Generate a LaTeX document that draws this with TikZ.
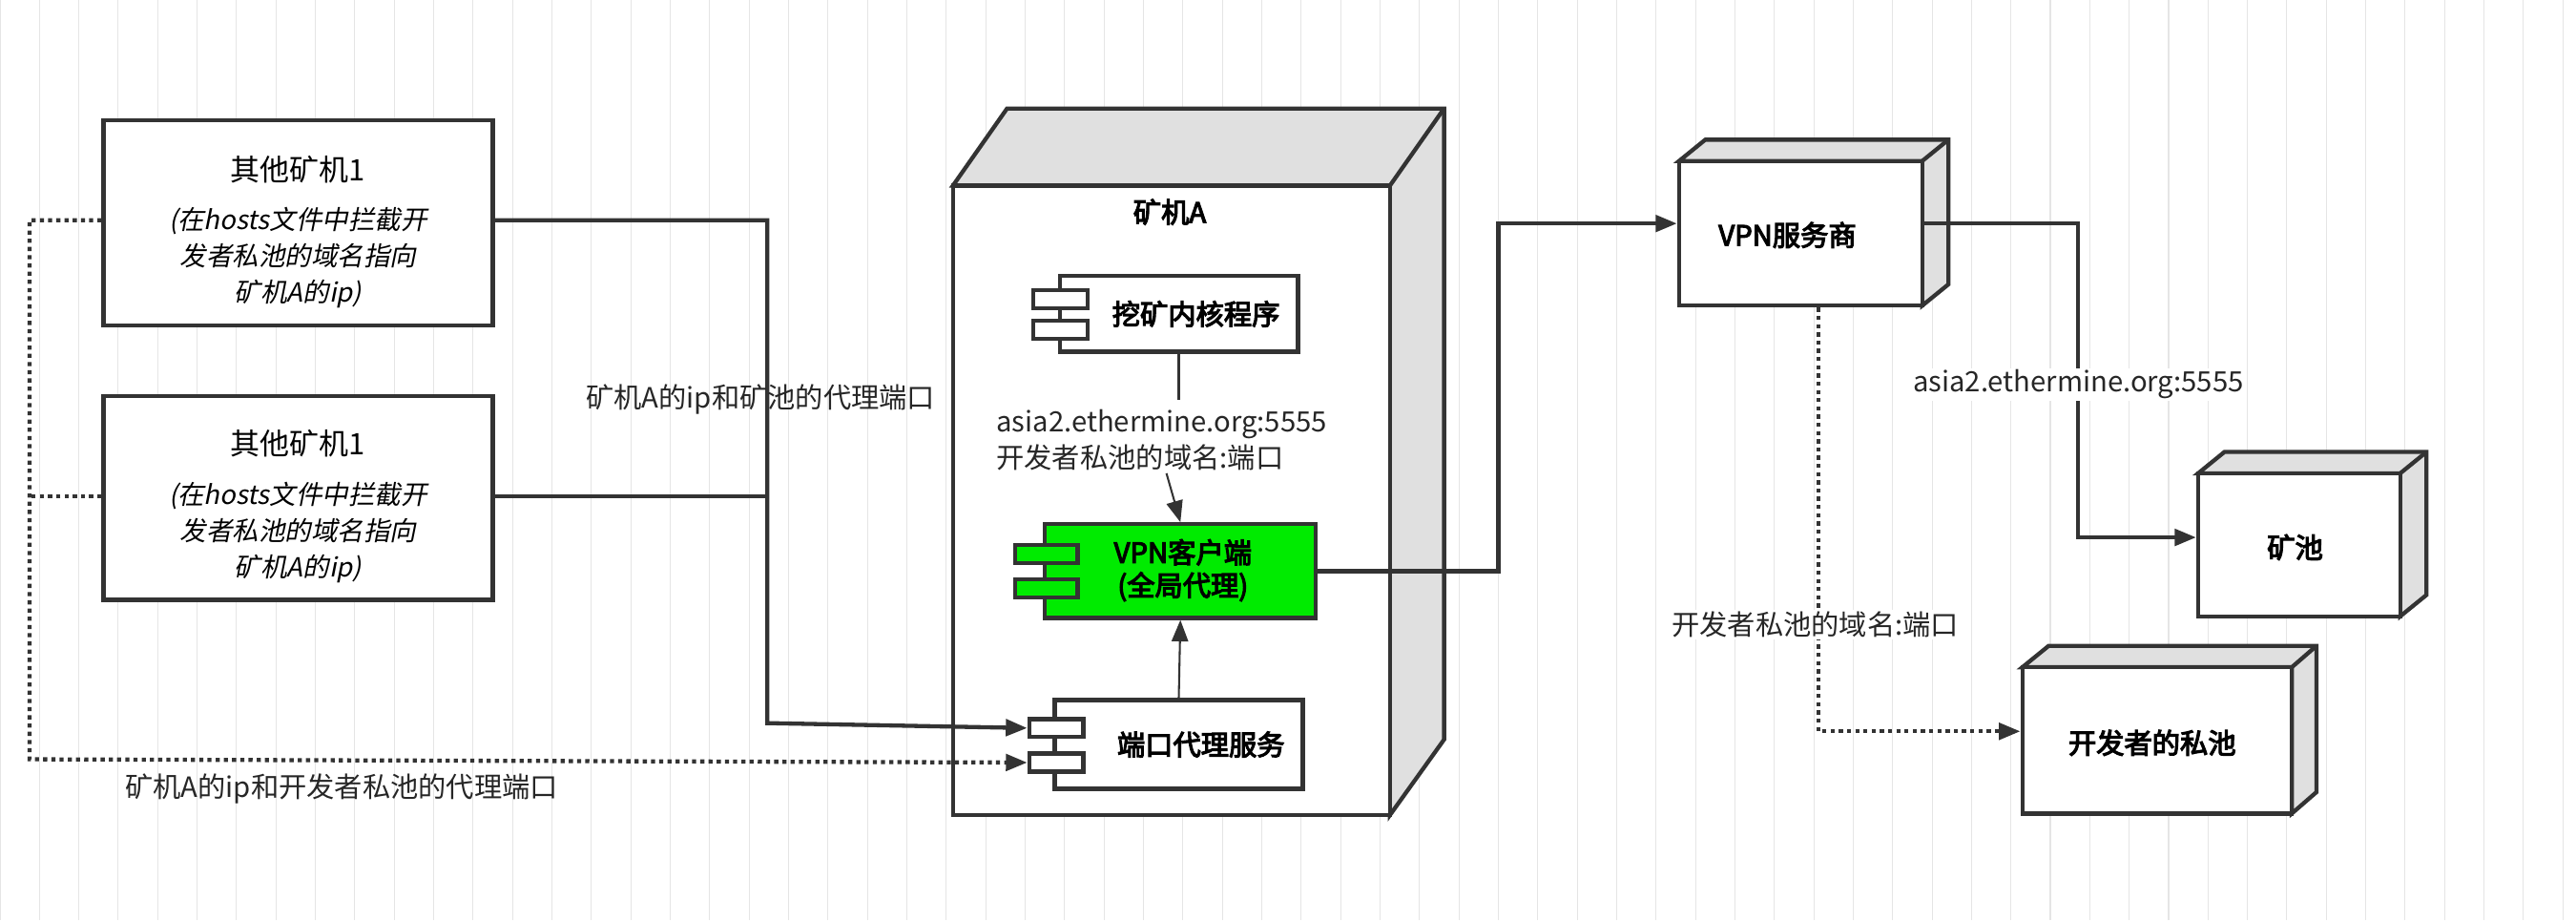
\documentclass[tikz,border=0pt]{standalone}
\usepackage{fontspec}
\setmainfont{Noto Sans CJK SC}[AutoFakeBold=4,AutoFakeSlant=0.2]
\usetikzlibrary{arrows.meta}
\definecolor{vpngreen}{RGB}{0,235,0}

\tikzset{
  box/.style = {draw=black!80, line width=2.5pt, fill=white, inner sep=0pt},
  tab/.style = {draw=black!80, line width=2.5pt, fill=white, minimum width=33pt, minimum height=11pt, inner sep=0pt},
  link/.style = {draw=black!80, line width=2.5pt, -{Triangle[length=13pt,width=10pt]}},
  dots/.style = {draw=black!80, line width=2.5pt, dash pattern=on 2.5pt off 2.5pt},
  thin/.style = {draw=black!80, line width=1.2pt, -{Triangle[length=13pt,width=10pt]}},
  lbl/.style = {font=\fontsize{17}{20}\selectfont, text=black!85, align=left},
  big/.style = {font=\fontsize{17}{20}\selectfont\bfseries},
}

\begin{document}
\begin{tikzpicture}[x=1pt, y=-1pt]

  \useasboundingbox (0,0) rectangle (1568,560);
  \draw[black!10, line width=0.6pt, step=24] (0,0) grid (1568,560);

  % other miners
  \node[box, minimum width=237pt, minimum height=125pt] (m1) at (181.5,135.5) {};
  \node[font=\fontsize{18}{20}\selectfont] at (181.5,103) {其他矿机1};
  \node[font=\fontsize{16}{22}\selectfont\itshape, align=center] at (181.5,157) {(在hosts文件中拦截开\\发者私池的域名指向\\矿机A的ip)};

  \node[box, minimum width=237pt, minimum height=124pt] (m2) at (181.5,303) {};
  \node[font=\fontsize{18}{20}\selectfont] at (181.5,270) {其他矿机1};
  \node[font=\fontsize{16}{22}\selectfont\itshape, align=center] at (181.5,324) {(在hosts文件中拦截开\\发者私池的域名指向\\矿机A的ip)};

  % miner A
  \filldraw[fill=black!12, draw=black!80, line width=2.5pt] (580,113) -- (613,66) -- (879,66) -- (879,450) -- (846,496) -- (846,113) -- cycle;
  \node[box, minimum width=266pt, minimum height=383pt] (minerA) at (713,304.5) {};
  \draw[black!80, line width=2.5pt] (846,113) -- (879,66);
  \node[big] at (712,129) {矿机A};

  \node[box, minimum width=145pt, minimum height=46pt] (core) at (717.5,191) {};
  \node[tab] at (645.5,182) {};
  \node[tab] at (645.5,200.5) {};
  \node[big] at (728,191) {挖矿内核程序};

  \node[box, fill=vpngreen, minimum width=165pt, minimum height=57pt] (vpn) at (718.5,347.5) {};
  \node[tab, fill=vpngreen, minimum width=38pt] at (637,337) {};
  \node[tab, fill=vpngreen, minimum width=38pt] at (637,358) {};
  \node[big, align=center] at (720,347) {VPN客户端\\(全局代理)};

  \node[box, minimum width=151pt, minimum height=54pt] (proxy) at (717.5,453) {};
  \node[tab] (p1) at (643,443) {};
  \node[tab] (p2) at (643,464) {};
  \node[big] at (731,453) {端口代理服务};

  \draw[black!80, line width=1.2pt] (core.south) -- ++(0,28);
  \node[lbl, font=\fontsize{17}{22}\selectfont, anchor=west] (dom) at (603,268) {asia2.ethermine.org:5555\\开发者私池的域名:端口};
  \draw[thin] (710,288) -- (vpn.north);
  \draw[thin] (proxy.north) -- (vpn.south);

  % servers
  \filldraw[fill=black!12, draw=black!80, line width=2.5pt] (1022,98) -- (1038,85) -- (1186,85) -- (1186,173) -- (1170,186) -- (1170,98) -- cycle;
  \node[box, minimum width=148pt, minimum height=88pt] (prov) at (1096,142) {};
  \draw[black!80, line width=2.5pt] (1170,98) -- (1186,85);
  \node[big] at (1088,143) {VPN服务商};

  \filldraw[fill=black!12, draw=black!80, line width=2.5pt] (1338,288) -- (1354,275) -- (1477,275) -- (1477,362) -- (1461,375) -- (1461,288) -- cycle;
  \node[box, minimum width=123pt, minimum height=87pt] (pool) at (1399.5,331.5) {};
  \draw[black!80, line width=2.5pt] (1461,288) -- (1477,275);
  \node[big] at (1397,333) {矿池};

  \filldraw[fill=black!12, draw=black!80, line width=2.5pt] (1231,406) -- (1247,393) -- (1410,393) -- (1410,482) -- (1395,495) -- (1395,406) -- cycle;
  \node[box, minimum width=164pt, minimum height=89pt] (dev) at (1313,450.5) {};
  \draw[black!80, line width=2.5pt] (1395,406) -- (1410,393);
  \node[big] at (1310,452) {开发者的私池};

  % connectors
  \draw[link] (m1.east |- 0,134) -| (467,440) -- (p1.west);
  \draw[black!80, line width=2.5pt] (m2.east |- 0,302) -- (467,302);
  \draw[dots, -{Triangle[length=13pt,width=10pt]}] (m1.west |- 0,134) -| (18,462) -- (p2.west);
  \draw[dots] (m2.west |- 0,302) -- (18,302);
  \node[lbl] at (463,243) {矿机A的ip和矿池的代理端口};
  \node[lbl] at (208,480) {矿机A的ip和开发者私池的代理端口};

  \draw[link] (vpn.east) -| (912,136) -- (prov.west |- 0,136);
  \draw[link] (prov.east |- 0,136) -| (1265,327) -- (pool.west |- 0,327);
  \node[lbl, fill=white, inner sep=1pt] at (1265,234) {asia2.ethermine.org:5555};
  \draw[dots, -{Triangle[length=13pt,width=10pt]}] (prov.south -| 1107,0) -- (1107,445) -- (dev.west |- 0,445);
  \node[lbl, fill=white, inner sep=1pt] at (1105,380) {开发者私池的域名:端口};

\end{tikzpicture}
\end{document}
